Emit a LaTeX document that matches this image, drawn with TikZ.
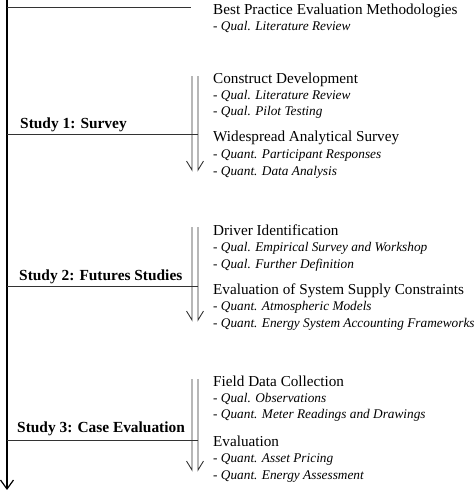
\documentclass[tikz,border=0pt]{standalone}
\usepackage{fontspec}
\setmainfont{Liberation Serif}
\begin{document}
\begin{tikzpicture}[x=1pt,y=-1pt,
  head/.style={anchor=base west,inner sep=0pt,font=\fontsize{15.2}{17}\selectfont},
  sub/.style={anchor=base west,inner sep=0pt,font=\fontsize{13.3}{15}\selectfont\itshape},
  study/.style={anchor=base west,inner sep=0pt,font=\fontsize{15.4}{17}\selectfont\bfseries},
  ln/.style={line width=0.9pt,draw=black!80},
  spine/.style={line width=1.8pt,draw=black}]
\useasboundingbox (0,0) rectangle (474,490);
% spine
\coordinate (s0) at (7,0);
\coordinate (s1) at (7,489);
\draw[spine] (s0) -- (s1);
\draw[line width=1.2pt] (0.5,480) -- (s1) -- (13.5,480);
% top line
\coordinate (t0) at (7,7);
\coordinate (t1) at (191,7);
\draw[ln] (t0) -- (t1);
% double arrows
\newcommand{\dblarrow}[3]{%
  \coordinate (#1a) at (192,#2);
  \coordinate (#1b) at (192,#3);
  \coordinate (#1c) at (198,#2);
  \coordinate (#1d) at (198,#3);
  \draw[ln] (#1a) -- (#1b) -- ++(-5.5,-9);
  \draw[ln] (#1c) -- (#1d) -- ++(5.5,-9);
}
\dblarrow{A}{76}{170}
\dblarrow{B}{227}{320}
\dblarrow{C}{379}{470}
% study lines
\coordinate (l1) at (7,134); \coordinate (r1) at (198,134);
\coordinate (l2) at (7,286); \coordinate (r2) at (198,286);
\coordinate (l3) at (7,440); \coordinate (r3) at (198,440);
\draw[ln] (l1) -- (r1);
\draw[ln] (l2) -- (r2);
\draw[ln] (l3) -- (r3);
\node[study] (st1) at (20,128) {Study 1: Survey};
\node[study] (st2) at (19,280) {Study 2: Futures Studies};
\node[study] (st3) at (17,432) {Study 3: Case Evaluation};
% texts
\node[head] (h0) at (213,14) {Best Practice Evaluation Methodologies};
\node[sub] (h0a) at (213,30) {- Qual. Literature Review};
\node[head] (h1) at (213,83) {Construct Development};
\node[sub] (h1a) at (213,99) {- Qual. Literature Review};
\node[sub] (h1b) at (213,115) {- Qual. Pilot Testing};
\node[head] (h2) at (213,141) {Widespread Analytical Survey};
\node[sub] (h2a) at (213,158) {- Quant. Participant Responses};
\node[sub] (h2b) at (213,175) {- Quant. Data Analysis};
\node[head] (h3) at (213,235) {Driver Identification};
\node[sub] (h3a) at (213,251) {- Qual. Empirical Survey and Workshop};
\node[sub] (h3b) at (213,268) {- Qual. Further Definition};
\node[head] (h4) at (213,294) {Evaluation of System Supply Constraints};
\node[sub] (h4a) at (213,310) {- Quant. Atmospheric Models};
\node[sub] (h4b) at (213,327) {- Quant. Energy System Accounting Frameworks};
\node[head] (h5) at (213,386) {Field Data Collection};
\node[sub] (h5a) at (213,402) {- Qual. Observations};
\node[sub] (h5b) at (213,418) {- Quant. Meter Readings and Drawings};
\node[head] (h6) at (213,446) {Evaluation};
\node[sub] (h6a) at (213,462) {- Quant. Asset Pricing};
\node[sub] (h6b) at (213,479) {- Quant. Energy Assessment};
\end{tikzpicture}
\end{document}
